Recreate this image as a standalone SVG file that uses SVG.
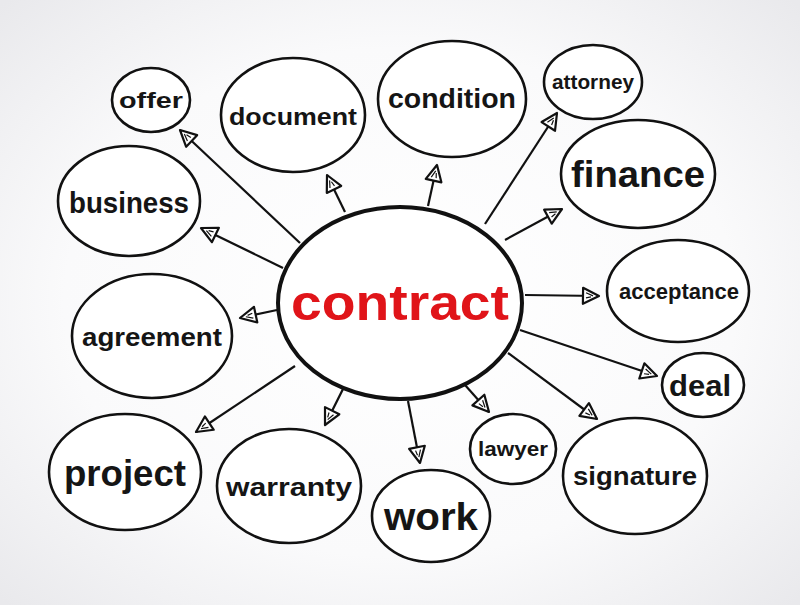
<svg xmlns="http://www.w3.org/2000/svg" width="800" height="605" viewBox="0 0 800 605">
<style>
.n ellipse{fill:#fff;stroke:#111;stroke-width:2.6}
.t{font-family:"Liberation Sans",Arial,sans-serif;font-weight:bold;fill:#151515;text-anchor:middle;dominant-baseline:central}
.c line{stroke:#111;stroke-width:2.2;marker-end:url(#ah)}
</style>
<defs>
<radialGradient id="bg" cx="50%" cy="50%" r="70%">
<stop offset="0" stop-color="#ffffff"/>
<stop offset="0.6" stop-color="#fafafb"/>
<stop offset="1" stop-color="#e9e9ec"/>
</radialGradient>
<marker id="ah" viewBox="0 0 20 20" refX="18" refY="10" markerWidth="20" markerHeight="20" markerUnits="userSpaceOnUse" orient="auto">
<path d="M2,2 L18,10 L2,18 Z" fill="#fff" stroke="#111" stroke-width="2.2" stroke-linejoin="round"/>
<path d="M5,7 L12,10 M5,12 L10,11" stroke="#111" stroke-width="1.2"/>
</marker>
</defs>
<rect width="800" height="605" fill="url(#bg)"/>
<g id="connectors" class="c">
<line x1="300" y1="243" x2="180" y2="130"/>
<line x1="345" y1="212" x2="327" y2="175"/>
<line x1="428" y1="206" x2="437" y2="165"/>
<line x1="485" y1="224" x2="557" y2="113"/>
<line x1="505" y1="240" x2="562" y2="209"/>
<line x1="283" y1="268" x2="201" y2="228"/>
<line x1="525" y1="295" x2="599" y2="296"/>
<line x1="277" y1="310" x2="240" y2="318"/>
<line x1="520" y1="330" x2="657" y2="376"/>
<line x1="295" y1="366" x2="196" y2="432"/>
<line x1="347" y1="381" x2="325" y2="425"/>
<line x1="408" y1="401" x2="420" y2="463"/>
<line x1="465" y1="385" x2="489" y2="412"/>
<line x1="508" y1="353" x2="597" y2="419"/>
</g>
<g id="contract" class="n"><ellipse cx="400" cy="303" rx="122" ry="96" style="stroke-width:4"/><text class="t" x="400" y="303" font-size="50" textLength="218" lengthAdjust="spacingAndGlyphs" style="fill:#e01419">contract</text></g>
<g id="offer" class="n"><ellipse cx="151" cy="100" rx="39" ry="32"/><text class="t" x="151" y="100" font-size="22" textLength="64" lengthAdjust="spacingAndGlyphs">offer</text></g>
<g id="document" class="n"><ellipse cx="293" cy="115" rx="72" ry="57"/><text class="t" x="293" y="116" font-size="24" textLength="128" lengthAdjust="spacingAndGlyphs">document</text></g>
<g id="condition" class="n"><ellipse cx="452" cy="99" rx="74" ry="58"/><text class="t" x="452" y="99" font-size="27" textLength="128" lengthAdjust="spacingAndGlyphs">condition</text></g>
<g id="attorney" class="n"><ellipse cx="593" cy="82" rx="49" ry="37"/><text class="t" x="593" y="82" font-size="20" textLength="82" lengthAdjust="spacingAndGlyphs">attorney</text></g>
<g id="finance" class="n"><ellipse cx="638" cy="174" rx="77" ry="54"/><text class="t" x="638" y="174" font-size="36" textLength="134" lengthAdjust="spacingAndGlyphs">finance</text></g>
<g id="business" class="n"><ellipse cx="129" cy="201" rx="71" ry="55"/><text class="t" x="129" y="202" font-size="30" textLength="120" lengthAdjust="spacingAndGlyphs">business</text></g>
<g id="acceptance" class="n"><ellipse cx="678" cy="291" rx="71" ry="51"/><text class="t" x="679" y="291" font-size="22" textLength="120" lengthAdjust="spacingAndGlyphs">acceptance</text></g>
<g id="agreement" class="n"><ellipse cx="152" cy="336" rx="80" ry="62"/><text class="t" x="152" y="337" font-size="26" textLength="140" lengthAdjust="spacingAndGlyphs">agreement</text></g>
<g id="deal" class="n"><ellipse cx="703" cy="385" rx="41" ry="32"/><text class="t" x="700" y="385" font-size="30" textLength="62" lengthAdjust="spacingAndGlyphs">deal</text></g>
<g id="project" class="n"><ellipse cx="125" cy="472" rx="76" ry="58"/><text class="t" x="125" y="473" font-size="36" textLength="122" lengthAdjust="spacingAndGlyphs">project</text></g>
<g id="warranty" class="n"><ellipse cx="289" cy="486" rx="72" ry="57"/><text class="t" x="289" y="487" font-size="26" textLength="126" lengthAdjust="spacingAndGlyphs">warranty</text></g>
<g id="work" class="n"><ellipse cx="431" cy="516" rx="59" ry="46"/><text class="t" x="431" y="517" font-size="38" textLength="94" lengthAdjust="spacingAndGlyphs">work</text></g>
<g id="lawyer" class="n"><ellipse cx="513" cy="449" rx="43" ry="35"/><text class="t" x="513" y="449" font-size="20" textLength="70" lengthAdjust="spacingAndGlyphs">lawyer</text></g>
<g id="signature" class="n"><ellipse cx="635" cy="476" rx="72" ry="58"/><text class="t" x="635" y="476" font-size="26" textLength="124" lengthAdjust="spacingAndGlyphs">signature</text></g>
</svg>
